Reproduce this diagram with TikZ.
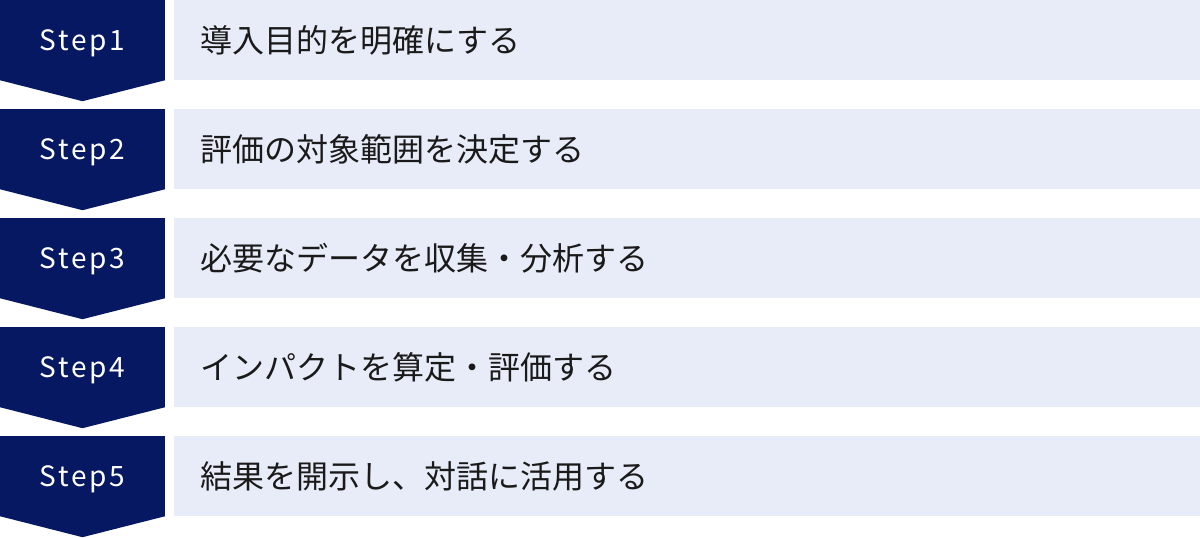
\documentclass[tikz,border=0pt]{standalone}
\usepackage{fontspec}
\setmainfont{Noto Sans CJK JP}
\newfontfamily\stepfont[LetterSpace=10]{Noto Sans CJK JP}
\usetikzlibrary{positioning}
\definecolor{stepnavy}{HTML}{051861}
\definecolor{rowblue}{HTML}{E7ECF8}
\definecolor{rowtext}{HTML}{1A1A1A}
\tikzset{
    stepbox/.style={fill=stepnavy, text=white, minimum width=165pt, minimum height=80pt,
        inner sep=0pt, text depth=0pt, font=\stepfont\fontsize{28}{28}\selectfont},
    rowbox/.style={fill=rowblue, text=rowtext, text width=974pt, inner xsep=26pt, inner ysep=0pt,
        minimum height=80pt, align=left, font=\fontsize{32}{32}\selectfont}
}

\begin{document}
\begin{tikzpicture}[x=1pt, y=1pt]
    \useasboundingbox (0,0) rectangle (1200,-538);
    \foreach \i/\txt in {1/導入目的を明確にする,
                         2/評価の対象範囲を決定する,
                         3/必要なデータを収集・分析する,
                         4/インパクトを算定・評価する,
                         5/結果を開示し、対話に活用する} {
        \pgfmathsetmacro{\yc}{-40-109*(\i-1)}
        \node[stepbox] (s\i) at (82.5,\yc) {Step\i};
        \fill[stepnavy] (s\i.south west) -- (s\i.south east) -- ([yshift=-21pt]s\i.south) -- cycle;
        \node[rowbox, anchor=west] (t\i) at (174,\yc) {\txt};
    }
\end{tikzpicture}
\end{document}
